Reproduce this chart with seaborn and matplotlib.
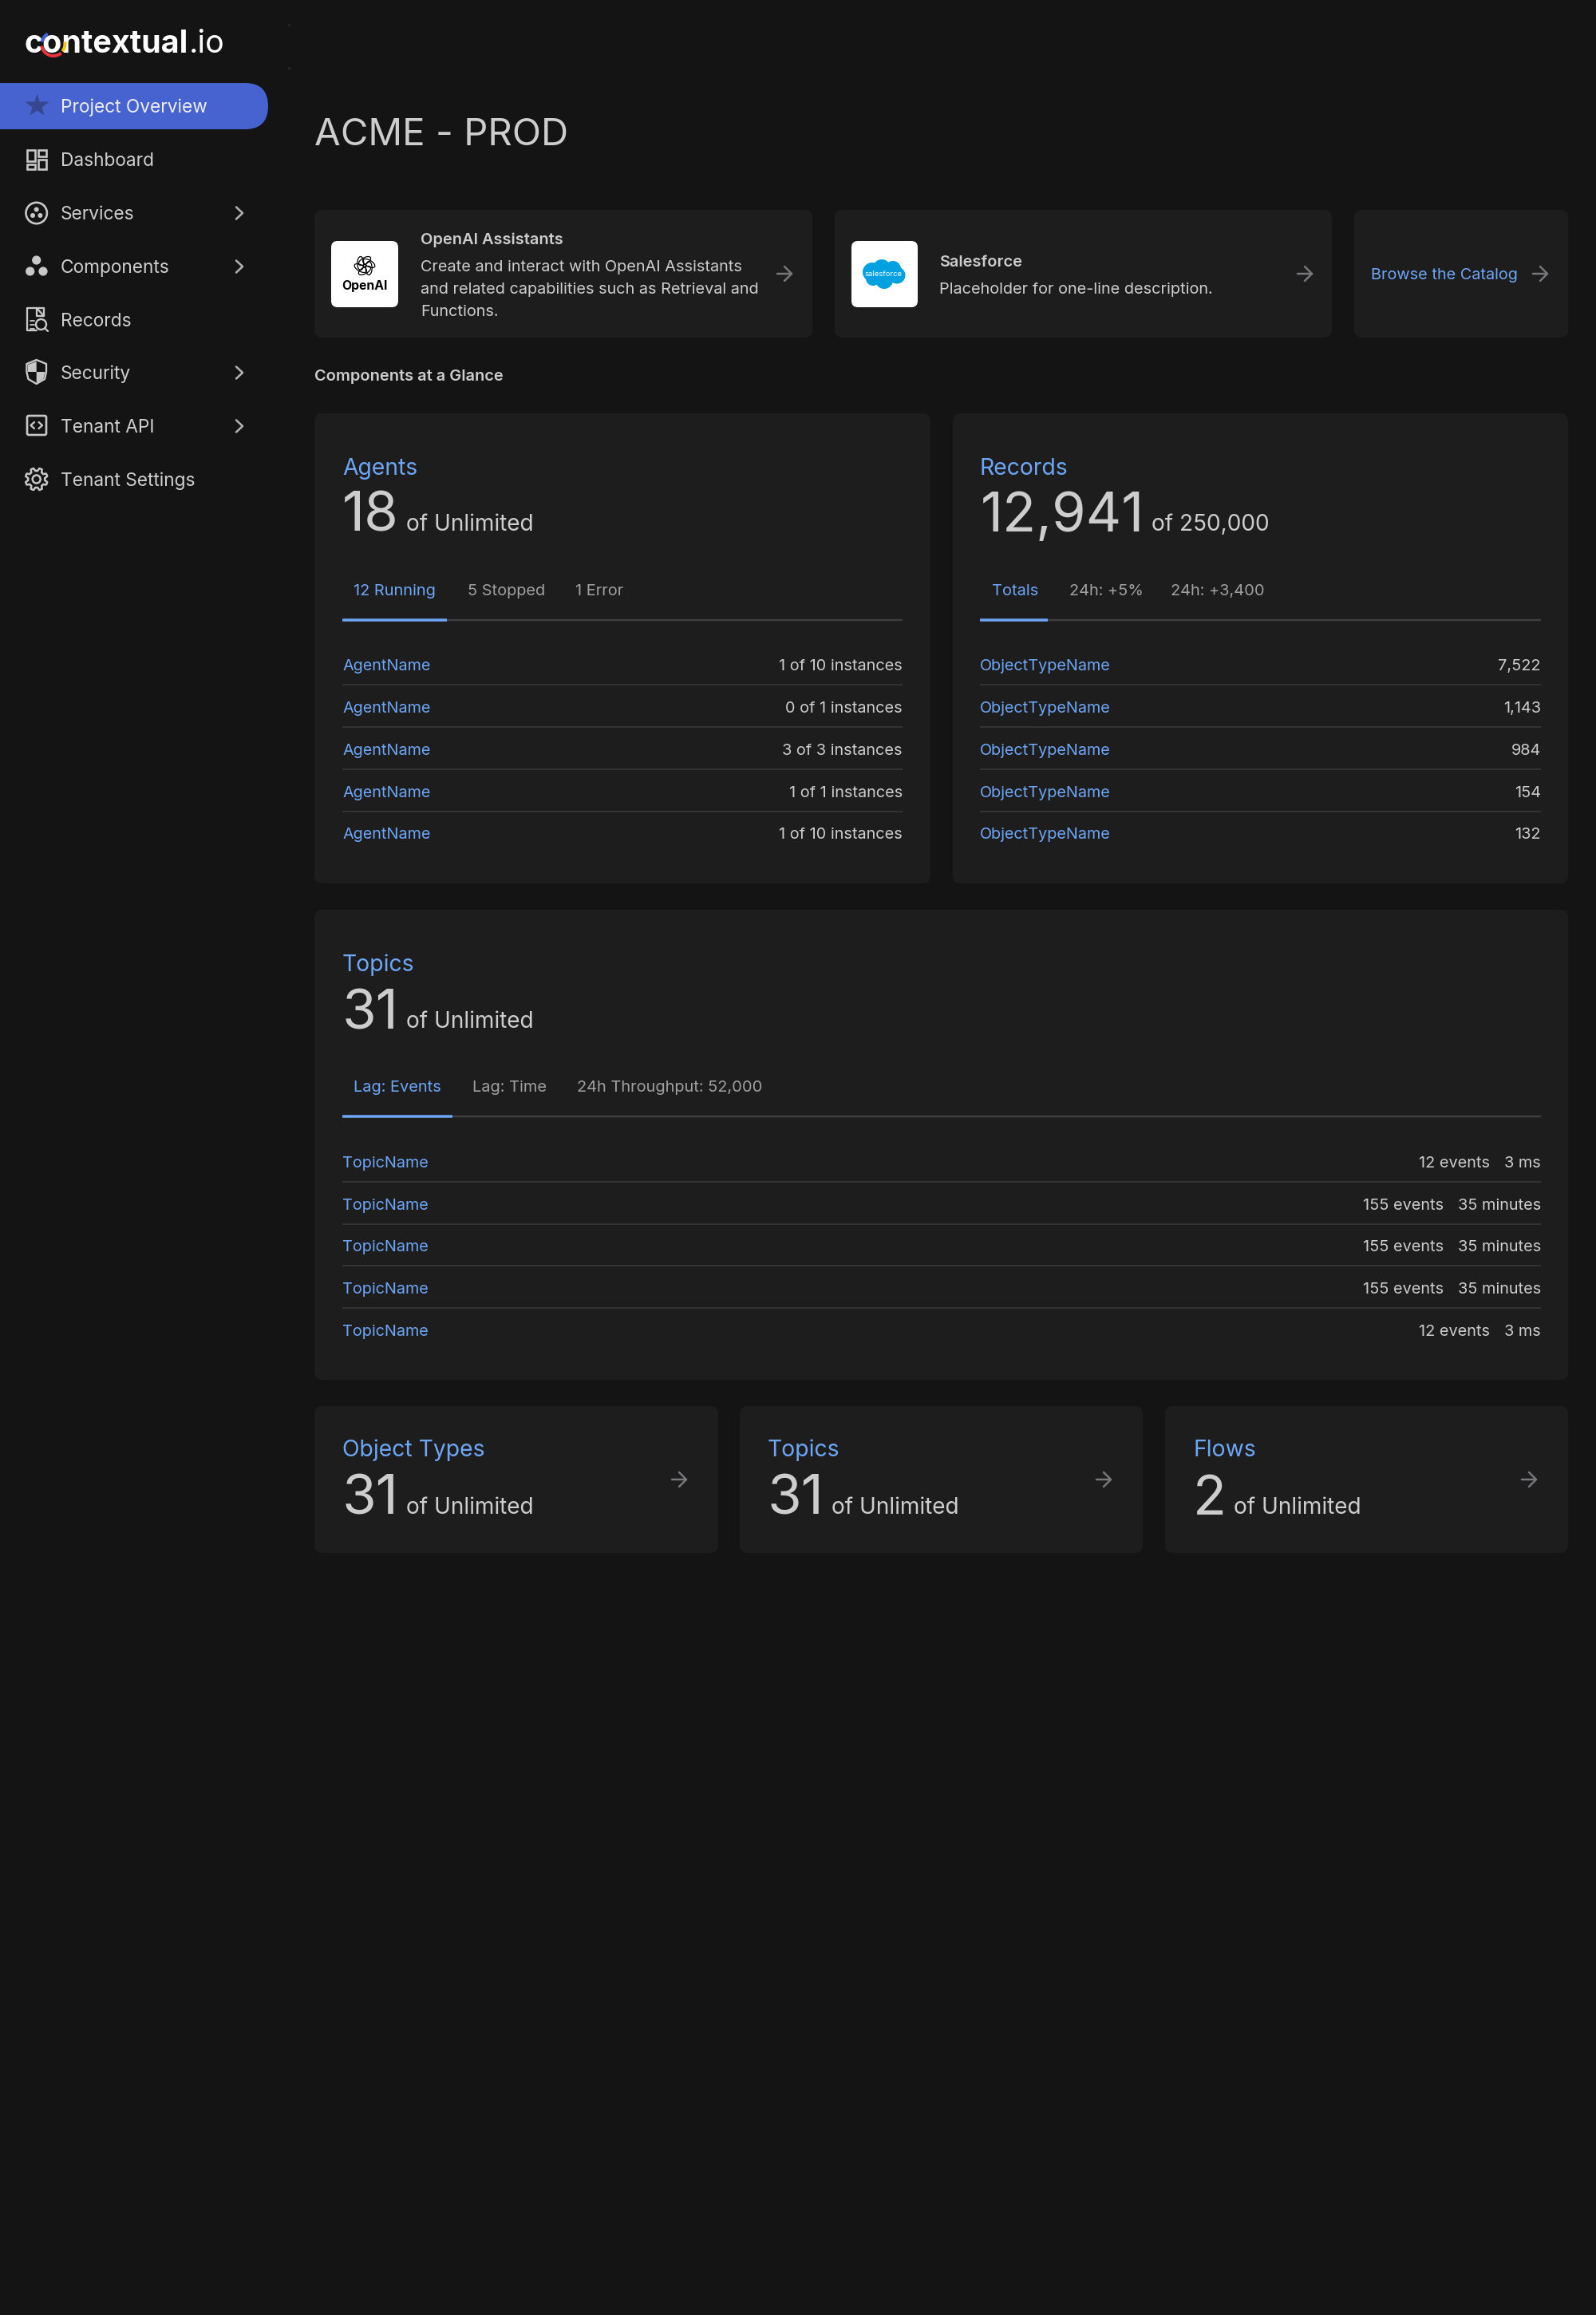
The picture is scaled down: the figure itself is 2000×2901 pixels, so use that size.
import numpy as np
import matplotlib
matplotlib.use('Agg')
import matplotlib.pyplot as plt
from matplotlib.patches import FancyBboxPatch, Circle, Ellipse, Polygon, Rectangle
import seaborn as sns

# text content
nav_labels = ['Project Overview', 'Dashboard', 'Services', 'Components', 'Records', 'Security', 'Tenant API', 'Tenant Settings']
nav_chevrons = [False, False, True, True, False, True, True, False]

agent_tabs = ['12 Running', '5 Stopped', '1 Error']
agent_names = ['AgentName'] * 5
agent_values = ['1 of 10 instances', '0 of 1 instances', '3 of 3 instances', '1 of 1 instances', '1 of 10 instances']

record_tabs = ['Totals', '24h: +5%', '24h: +3,400']
record_names = ['ObjectTypeName'] * 5
record_values = ['7,522', '1,143', '984', '154', '132']

topic_tabs = ['Lag: Events', 'Lag: Time', '24h Throughput: 52,000']
topic_names = ['TopicName'] * 5
topic_events = ['12 events', '155 events', '155 events', '155 events', '12 events']
topic_lag = ['3 ms', '35 minutes', '35 minutes', '35 minutes', '3 ms']

bottom_titles = ['Object Types', 'Topics', 'Flows']
bottom_counts = ['31', '31', '2']

BG = '#141414'
CARD = '#1d1d1d'
BLUE = '#6ea6f6'
TEXT = '#cdcdcd'
MUTED = '#a0a0a0'
ICON = '#c8c8c8'
ARROW = '#77777c'

sns.set_theme(style='dark', rc={'figure.facecolor': BG, 'axes.facecolor': BG})
plt.rcParams['font.family'] = ['Inter', 'DejaVu Sans']

fig = plt.figure(figsize=(20, 29.01), dpi=100)
ax = fig.add_axes([0, 0, 1, 1])
ax.set_xlim(0, 2000)
ax.set_ylim(2901, 0)
ax.axis('off')
renderer = fig.canvas.get_renderer()


def label(x, y, s, px, color=TEXT, ha='left', weight='normal', **kw):
    # y is the visual middle of the line, px the css-like font size
    return ax.text(x, y + 0.36 * px, s, fontsize=px * 0.72, color=color, ha=ha, va='baseline',
                   fontweight=weight, **kw)


def card(x0, y0, x1, y1, color=CARD, r=10):
    ax.add_patch(FancyBboxPatch((x0 + r, y0 + r), x1 - x0 - 2 * r, y1 - y0 - 2 * r,
                                boxstyle=f'round,pad={r},rounding_size={r}', fc=color, ec='none'))


def stroke(xs, ys, color=ICON, lw=2.5):
    ax.plot(xs, ys, color=color, lw=lw * 0.72, solid_capstyle='round', solid_joinstyle='round')


def arrow(cx, cy):
    stroke([cx - 9.5, cx + 9], [cy, cy], ARROW, 2.5)
    stroke([cx, cx + 9, cx], [cy - 9, cy, cy + 9], ARROW, 2.5)


def chevron(cx, cy):
    stroke([cx - 4, cx + 4, cx - 4], [cy - 7.5, cy, cy + 7.5], '#b0b0b0', 2.6)


def arc(cx, cy, r, t0, t1, color, lw):
    t = np.radians(np.linspace(t0, t1, 30))
    ax.plot(cx + r * np.cos(t), cy + r * np.sin(t), color=color, lw=lw * 0.72, solid_capstyle='butt', zorder=4)


def count_line(x, baseline, number, rest, gap=9):
    t = ax.text(x, baseline + 2, number, fontsize=69 * 0.72, color=TEXT, va='baseline')
    x_end = ax.transData.inverted().transform(t.get_window_extent(renderer))[1][0]
    ax.text(x_end + gap, baseline + 1, rest, fontsize=28 * 0.72, color=TEXT, va='baseline')


def tabs(x0, x1, y_text, y_line, names, starts, active_end):
    ax.plot([x0, x1], [y_line, y_line], color='#3f3f3f', lw=2.5 * 0.72, solid_capstyle='butt')
    ax.plot([x0, active_end], [y_line, y_line], color=BLUE, lw=3.5 * 0.72, solid_capstyle='butt')
    for i, (name, sx) in enumerate(zip(names, starts)):
        label(sx, y_text, name, 20, BLUE if i == 0 else MUTED)


def row_lines(x0, x1, ys):
    for y in ys:
        ax.plot([x0, x1], [y, y], color='#333333', lw=2 * 0.72, solid_capstyle='butt')


# sidebar
ax.add_patch(FancyBboxPatch((-60, 104 + 29), 60 + 336 - 29, 0.01,
                            boxstyle='round,pad=29,rounding_size=29', fc='#4663cf', ec='none'))
nav_y = [133, 200, 267, 334, 401, 467, 534, 601]
for i, (name, y, chev) in enumerate(zip(nav_labels, nav_y, nav_chevrons)):
    label(76, y, name, 22.7, '#eeeeee' if i == 0 else '#cfcfcf')
    if chev:
        chevron(300, y)

ax.plot([46], [132], marker='*', ms=22, mfc='#36478f', mec='none')

# dashboard icon
for x0, x1, y0, y1 in [(33.5, 43.5, 187.5, 201.5), (48, 58, 187.5, 196), (33.5, 43.5, 206, 212), (48, 58, 200, 212)]:
    ax.add_patch(Rectangle((x0, y0), x1 - x0, y1 - y0, fc='none', ec=ICON, lw=1.9))

# services icon
ax.add_patch(Circle((45.7, 267), 13.2, fc='none', ec=ICON, lw=1.9))
for dx, dy in [(0, -4.5), (-4.7, 3), (4.7, 3)]:
    ax.add_patch(Circle((45.7 + dx, 267 + dy), 3, fc=ICON, ec='none'))

# components icon
for x, y in [(45.7, 326), (37.7, 340), (54, 340)]:
    ax.add_patch(Circle((x, y), 5.6, fc=ICON, ec='none'))

# records icon
stroke([46, 34, 34, 55, 55, 46, 46, 55], [414, 414, 386, 386, 396, 386, 396, 396], ICON, 2.3)
ax.add_patch(Circle((51.5, 406.5), 6.5, fc=BG, ec=ICON, lw=1.7))
stroke([56, 60], [411, 415], ICON, 2.3)
for y in [401.5, 406.5, 411.5]:
    stroke([38, 42.5], [y, y], ICON, 1.8)

# security icon
sx = [45.7, 58, 58, 56, 45.7, 35.4, 33.4, 33.4]
sy = [451, 456, 466, 475, 481, 475, 466, 456]
ax.add_patch(Polygon(np.column_stack([sx, sy]), closed=True, fc='none', ec=ICON, lw=1.7, joinstyle='round'))
ax.add_patch(Polygon([(45.7, 453), (35, 457), (35, 466), (45.7, 466)], fc=ICON, ec='none'))
ax.add_patch(Polygon([(56.5, 466), (45.7, 466), (45.7, 480), (54.5, 474.5)], fc=ICON, ec='none'))

# tenant api icon
ax.add_patch(FancyBboxPatch((35.5, 522.5), 21, 21, boxstyle='round,pad=1.5,rounding_size=2', fc='none', ec=ICON, lw=1.9))
stroke([43, 38.5, 43], [529, 533, 537], ICON, 2.3)
stroke([48.5, 53, 48.5], [529, 533, 537], ICON, 2.3)

# tenant settings icon
gear_t = np.radians(np.arange(0, 360, 7.5) + 22.5)
gear_r = np.where(((np.arange(48) + 1) % 6) < 3, 14, 10.5)
ax.add_patch(Polygon(np.column_stack([45.7 + gear_r * np.cos(gear_t), 600.5 + gear_r * np.sin(gear_t)]),
                     closed=True, fc='none', ec=ICON, lw=1.8, joinstyle='round'))
ax.add_patch(Circle((45.7, 600.5), 5, fc='none', ec=ICON, lw=1.8))

# logo
logo = ax.text(31, 66, 'contextual', fontsize=39.5 * 0.72, color='white', fontweight='bold', va='baseline')
logo_end = ax.transData.inverted().transform(logo.get_window_extent(renderer))[1][0]
ax.text(logo_end + 1, 66, '.io', fontsize=39.5 * 0.72, color='white', va='baseline')
arc(67, 55, 14.5, 190, 240, '#3f62d8', 4)
arc(67, 55, 15, 50, 170, '#e8343f', 4)
arc(67, 55, 14.5, -10, 40, '#f5c518', 4)
ax.plot([362, 362], [31, 85], ls='none', marker='s', ms=1, color='#2a2a2a')

# heading
ax.text(394, 182, 'ACME - PROD', fontsize=47.4 * 0.72, color=TEXT, va='baseline')

# catalog cards
card(394, 263, 1018, 423)
card(1046, 263, 1669, 423)
card(1697, 263, 1965, 423)
card(415, 302, 499, 385, 'white', 8)
card(1067, 302, 1150, 385, 'white', 8)

# openai logo
for k in range(6):
    a = np.radians(k * 60 + 30)
    ax.add_patch(Ellipse((457 + 6 * np.cos(a), 333 + 6 * np.sin(a)), 17, 8, angle=k * 60 + 90,
                         fc='none', ec='black', lw=0.9))
ax.text(457, 362.5, 'OpenAI', fontsize=15.7 * 0.72, color='black', fontweight='bold', ha='center', va='baseline')

# salesforce logo
for x, y, r in [(1093, 341, 12), (1105, 336, 11), (1119, 337, 10), (1124, 345, 10.5), (1108, 351, 11), (1094, 349, 9)]:
    ax.add_patch(Circle((x, y), r, fc='#00a1e0', ec='none'))
ax.text(1107.5, 346.5, 'salesforce', fontsize=9.5 * 0.72, color='white', ha='center', va='baseline')

label(527, 299, 'OpenAI Assistants', 20, TEXT, weight='semibold')
label(527, 333, 'Create and interact with OpenAI Assistants', 19.9)
label(527, 361, 'and related capabilities such as Retrieval and', 19.9)
label(527, 389, 'Functions.', 19.9)
label(1177, 327, 'Salesforce', 20, TEXT, weight='semibold')
label(1177, 361, 'Placeholder for one-line description.', 19.9)
label(1718, 343, 'Browse the Catalog', 19.9, BLUE)
arrow(983, 343)
arrow(1635, 343)
arrow(1930, 343)

label(394, 470, 'Components at a Glance', 20, TEXT, weight='semibold')

# agents card
card(394, 518, 1166, 1107)
label(429, 585, 'Agents', 28.3, BLUE)
count_line(429, 664, '18', 'of Unlimited')
tabs(429, 1131, 739, 777, agent_tabs, [443, 586, 721], 560)
agent_rows = [833, 886, 939, 991.5, 1044]
for y, name, value in zip(agent_rows, agent_names, agent_values):
    label(429, y, name, 19.8, BLUE)
    label(1131, y, value, 19.9, TEXT, ha='right')
row_lines(429, 1131, [858, 911, 964, 1017])

# records card
card(1194, 518, 1965, 1107)
label(1228, 585, 'Records', 28.3, BLUE)
count_line(1229, 664, '12,941', 'of 250,000')
tabs(1228, 1931, 739, 777, record_tabs, [1243, 1340, 1467], 1313)
for y, name, value in zip(agent_rows, record_names, record_values):
    label(1228, y, name, 19.8, BLUE)
    label(1931, y, value, 19.9, TEXT, ha='right')
row_lines(1228, 1931, [858, 911, 964, 1017])

# topics card
card(394, 1140, 1965, 1729)
label(429, 1207, 'Topics', 28.3, BLUE)
count_line(429, 1287, '31', 'of Unlimited')
tabs(429, 1931, 1361, 1399, topic_tabs, [443, 592, 723], 567)
topic_rows = [1456, 1509, 1561, 1614, 1667]
for y, name, ev, lag in zip(topic_rows, topic_names, topic_events, topic_lag):
    label(429, y, name, 19.8, BLUE)
    t = label(1931, y, lag, 19.9, TEXT, ha='right')
    x_start = ax.transData.inverted().transform(t.get_window_extent(renderer))[0][0]
    label(x_start - 18, y, ev, 19.9, TEXT, ha='right')
row_lines(429, 1931, [1481, 1534, 1586, 1639])

# bottom cards
bottom_x0 = [394, 927, 1460]
bottom_x1 = [900, 1432, 1965]
bottom_text = [429, 962, 1495]
bottom_arrow = [851, 1383, 1916]
for x0, x1, tx, ar, title, n in zip(bottom_x0, bottom_x1, bottom_text, bottom_arrow, bottom_titles, bottom_counts):
    card(x0, 1762, x1, 1946)
    label(tx, 1815, title, 28.3, BLUE)
    count_line(tx, 1896, n, 'of Unlimited')
    arrow(ar, 1854)

fig.savefig('out.png', dpi=100, facecolor=BG)
